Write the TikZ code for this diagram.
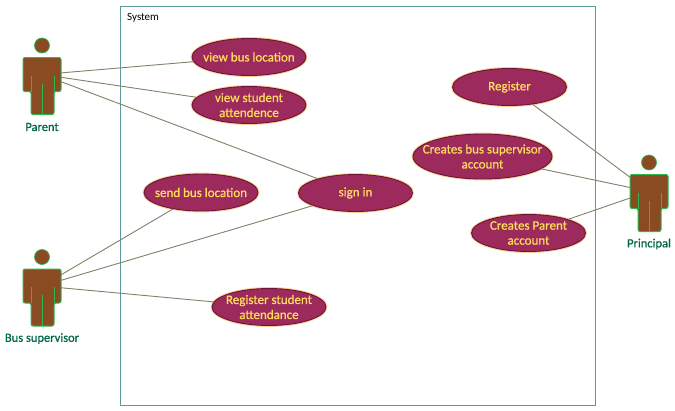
\documentclass[tikz,border=0pt]{standalone}
\usepackage{fontspec}
\setmainfont{Carlito}
\newfontfamily\thickfont[FakeBold=0.8]{Carlito}
\usetikzlibrary{shapes.geometric}

\definecolor{usecasefill}{HTML}{9C2A5C}
\definecolor{usecaseline}{HTML}{6E1436}
\definecolor{usecaseglow}{HTML}{F8CF96}
\definecolor{usecasetext}{HTML}{FFDC5E}
\definecolor{actorfill}{HTML}{8A4A22}
\definecolor{actorline}{HTML}{2DB84F}
\definecolor{actortext}{HTML}{00664A}
\definecolor{systemline}{HTML}{5F9A9A}
\definecolor{linkline}{HTML}{85806A}

\tikzset{
  usecase/.style={ellipse,draw=usecaseline,line width=0.9pt,fill=usecasefill,
    preaction={draw=usecaseglow,line width=2.8pt},
    text=usecasetext,font=\thickfont\fontsize{13}{15}\selectfont,align=center,
    inner sep=-20pt,minimum width=114pt,minimum height=37pt},
  actorbody/.style={draw=actorline,line width=1pt,fill=actorfill,rounded corners=2pt},
  actorhead/.style={circle,draw=actorline,line width=0.7pt,fill=actorfill,inner sep=0pt,minimum size=15pt},
  actorbox/.style={rectangle,inner sep=0pt,minimum width=38pt,minimum height=34pt},
  actorname/.style={text=actortext,font=\thickfont\fontsize{12.5}{14}\selectfont},
  link/.style={draw=linkline,line width=0.9pt},
}

% name, centre x, top of the shoulders y, label
\newcommand{\actor}[4]{
  \draw[actorbody] (#2-19,#3) -- (#2+19,#3) -- (#2+19,#3+34) -- (#2+12,#3+34)
    -- (#2+12,#3+57) -- (#2-11,#3+57) -- (#2-11,#3+34) -- (#2-19,#3+34) -- cycle;
  \draw[draw=actorline,line width=1pt] (#2,#3+26) -- (#2,#3+57)
    (#2-11,#3+18) -- (#2-11,#3+34) (#2+12,#3+18) -- (#2+12,#3+34);
  \node[actorhead] (#1head) at (#2,#3-12) {};
  \node[actorbox] (#1) at (#2,#3+17) {};
  \node[actorname] (#1name) at (#2,#3+69.5) {#4};
}

\begin{document}
\begin{tikzpicture}[x=1pt,y=-1pt]
  \useasboundingbox[fill=white] (0,0) rectangle (675,410);

  \node[draw=systemline,line width=0.9pt,minimum width=475pt,minimum height=399pt,inner sep=0pt]
    (system) at (357.5,205.5) {};
  \node[anchor=west,inner sep=0pt,font=\fontsize{11}{13}\selectfont] (systemname) at (127,18) {System};

  \actor{parent}{42}{57.5}{Parent}
  \actor{supervisor}{42}{269}{Bus supervisor}
  \actor{principal}{649}{174.5}{Principal}

  \node[usecase] (viewloc) at (249,57) {view bus location};
  \node[usecase] (viewatt) at (249,105) {view student\\attendence};
  \node[usecase] (sendloc) at (201,192.5) {send bus location};
  \node[usecase] (signin) at (355.5,193) {sign in};
  \node[usecase] (regatt) at (269,307) {Register student\\attendance};
  \node[usecase] (register) at (509.5,87) {Register};
  \node[usecase,minimum width=139pt,minimum height=45pt] (createsup) at (482.5,156.5) {Creates bus supervisor\\account};
  \node[usecase] (createpar) at (528.5,233) {Creates Parent\\account};

  \draw[link] (parent) -- (viewloc);
  \draw[link] (parent) -- (viewatt);
  \draw[link] (parent) -- (signin);

  \draw[link] (supervisor) -- (sendloc);
  \draw[link] (supervisor) -- (signin);
  \draw[link] (supervisor) -- (regatt);

  \draw[link] (principal) -- (register);
  \draw[link] (principal) -- (createsup);
  \draw[link] (principal) -- (createpar);
\end{tikzpicture}
\end{document}
